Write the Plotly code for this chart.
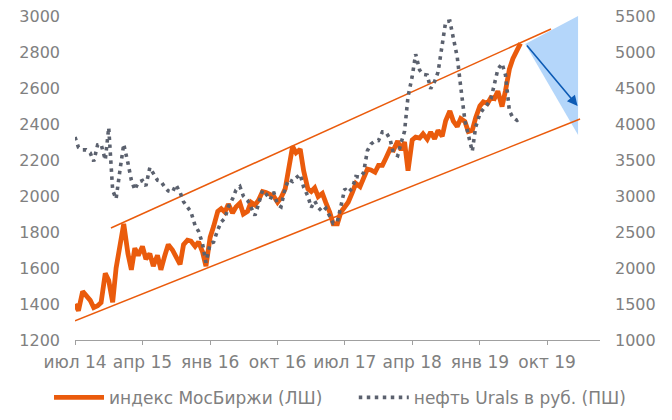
import pandas as pd
import plotly.graph_objects as go

# ---- data (semi-monthly readings) ----
dates = pd.date_range("2014-07-01", periods=120, freq="SMS")

moex = [1400, 1363, 1470, 1450, 1420, 1380, 1390, 1408, 1570, 1530,
        1410, 1600, 1750, 1845, 1680, 1590, 1710, 1670, 1720, 1650,
        1680, 1610, 1670, 1590, 1670, 1730, 1700, 1660, 1620, 1730,
        1755, 1750, 1720, 1745, 1690, 1610, 1770, 1830, 1915, 1930,
        1910, 1955, 1905, 1939, 1960, 1900, 1915, 1965, 1950, 1975,
        2025, 2020, 2005, 2000, 1965, 1990, 2040, 2155, 2275, 2240,
        2260, 2140, 2040, 2025, 2045, 1997, 2015, 1963, 1910, 1845,
        1845, 1910, 1942, 1965, 2020, 2070, 2052, 2098, 2150, 2145,
        2132, 2170, 2170, 2210, 2260, 2255, 2305, 2255, 2300, 2140,
        2311, 2327, 2322, 2345, 2315, 2355, 2318, 2364, 2332, 2418,
        2472, 2416, 2386, 2430, 2414, 2358, 2365, 2435, 2500, 2523,
        2514, 2547, 2541, 2582, 2497, 2585, 2705, 2763, 2815, 2848]

urals_rub = [3819, 3675, 3640, 3640, 3597, 3480, 3710, 3720, 3500, 3950,
             3080, 2960, 3390, 3720, 3460, 3220, 3085, 3190, 3215, 3140,
             3395, 3315, 3220, 3205, 3120, 3070, 3055, 3155, 3050, 2920,
             2840, 2780, 2590, 2510, 2340, 2075, 2340, 2360, 2530, 2640,
             2690, 2850, 2960, 3083, 3130, 3000, 2940, 2850, 2730, 2880,
             3080, 3030, 2950, 3060, 2880, 2850, 3110, 3230, 3200, 3250,
             3300, 3120, 3000, 2840, 2930, 2840, 2780, 2830, 2720, 2620,
             2640, 2850, 3100, 3050, 3110, 3270, 3260, 3320, 3630, 3720,
             3765, 3770, 3890, 3890, 3790, 3590, 3560, 3740, 3900, 4380,
             4660, 4970, 4750, 4690, 4680, 4490, 4590, 4720, 5080, 5420,
             5430, 5190, 4930, 4520, 4050, 3850, 3620, 3960, 4140, 4210,
             4275, 4350, 4540, 4760, 4840, 4680, 4180, 4090, 4050, 4080]

# trend channel (left axis units)
upper_dates = ["2014-11-24", "2019-10-17"]
upper_vals = [1822, 2928]
lower_dates = ["2014-07-01", "2020-02-12"]
lower_vals = [1306, 2428]

# forecast cone and arrow
cone_dates = ["2019-07-04", "2020-02-04", "2020-02-04"]
cone_vals = [2844, 3000, 2339]
arrow_start = ("2019-07-06", 2845)
arrow_end = ("2020-02-02", 2500)

tick_dates = ["2014-07-01", "2015-04-01", "2016-01-01", "2016-10-01",
              "2017-07-01", "2018-04-01", "2019-01-01", "2019-10-01"]
tick_labels = ["июл 14", "апр 15", "янв 16", "окт 16",
               "июл 17", "апр 18", "янв 19", "окт 19"]

name_moex = "индекс МосБиржи (ЛШ)"
name_urals = "нефть Urals в руб. (ПШ)"

ORANGE = "#EA5B0C"
GRAY_DOT = "#5b616e"
TXT = "#808080"
FONT = "DejaVu Sans"

fig = go.Figure()

fig.add_trace(go.Scatter(x=cone_dates, y=cone_vals, fill="toself",
                         fillcolor="#b4d6fa", line=dict(width=0),
                         mode="lines", showlegend=False, hoverinfo="skip"))

fig.add_trace(go.Scatter(x=upper_dates, y=upper_vals, mode="lines",
                         line=dict(color=ORANGE, width=1.5), showlegend=False))
fig.add_trace(go.Scatter(x=lower_dates, y=lower_vals, mode="lines",
                         line=dict(color=ORANGE, width=1.5), showlegend=False))

fig.add_trace(go.Scatter(x=dates, y=moex, mode="lines", name=name_moex,
                         legend="legend",
                         line=dict(color=ORANGE, width=4.8)))
fig.add_trace(go.Scatter(x=dates, y=urals_rub, mode="lines", name=name_urals,
                         yaxis="y2", legend="legend2",
                         line=dict(color=GRAY_DOT, width=3.6, dash="3.5px,4.5px")))

fig.add_annotation(x=arrow_end[0], y=arrow_end[1], ax=arrow_start[0], ay=arrow_start[1],
                   xref="x", yref="y", axref="x", ayref="y", text="",
                   showarrow=True, arrowhead=2, arrowsize=1.3, arrowwidth=1.6,
                   arrowcolor="#0d5bb5")

legend_common = dict(orientation="h", xanchor="left", y=-0.123, yanchor="top",
                     font=dict(size=17, color=TXT), itemwidth=50,
                     bgcolor="rgba(0,0,0,0)")

fig.update_layout(
    width=672, height=420,
    margin=dict(l=75, r=72, t=16, b=80, autoexpand=False),
    paper_bgcolor="white", plot_bgcolor="white",
    font=dict(family=FONT, size=16, color=TXT),
    xaxis=dict(type="date", range=["2014-07-01", "2020-05-03"],
               tickvals=tick_dates, ticktext=tick_labels,
               showgrid=False, zeroline=False,
               showline=True, linecolor="#a0a0a0", linewidth=1.3,
               ticks="outside", ticklen=4, tickcolor="#a0a0a0",
               tickfont=dict(size=17, color=TXT), ticklabelstandoff=2),
    yaxis=dict(range=[1200, 3000], dtick=200, showgrid=False, zeroline=False,
               showline=False, ticks="", tickfont=dict(size=16, color=TXT),
               ticklabelstandoff=14),
    yaxis2=dict(range=[1000, 5500], dtick=500, overlaying="y", side="right",
                showgrid=False, zeroline=False, showline=False, ticks="",
                tickfont=dict(size=16, color=TXT), ticklabelstandoff=14),
    showlegend=True,
    legend=dict(x=-0.0495, **legend_common),
    legend2=dict(x=0.531, **legend_common),
)

fig.write_html("out.html", config={"displayModeBar": False},
               post_script="document.body.style.margin='0px';")
